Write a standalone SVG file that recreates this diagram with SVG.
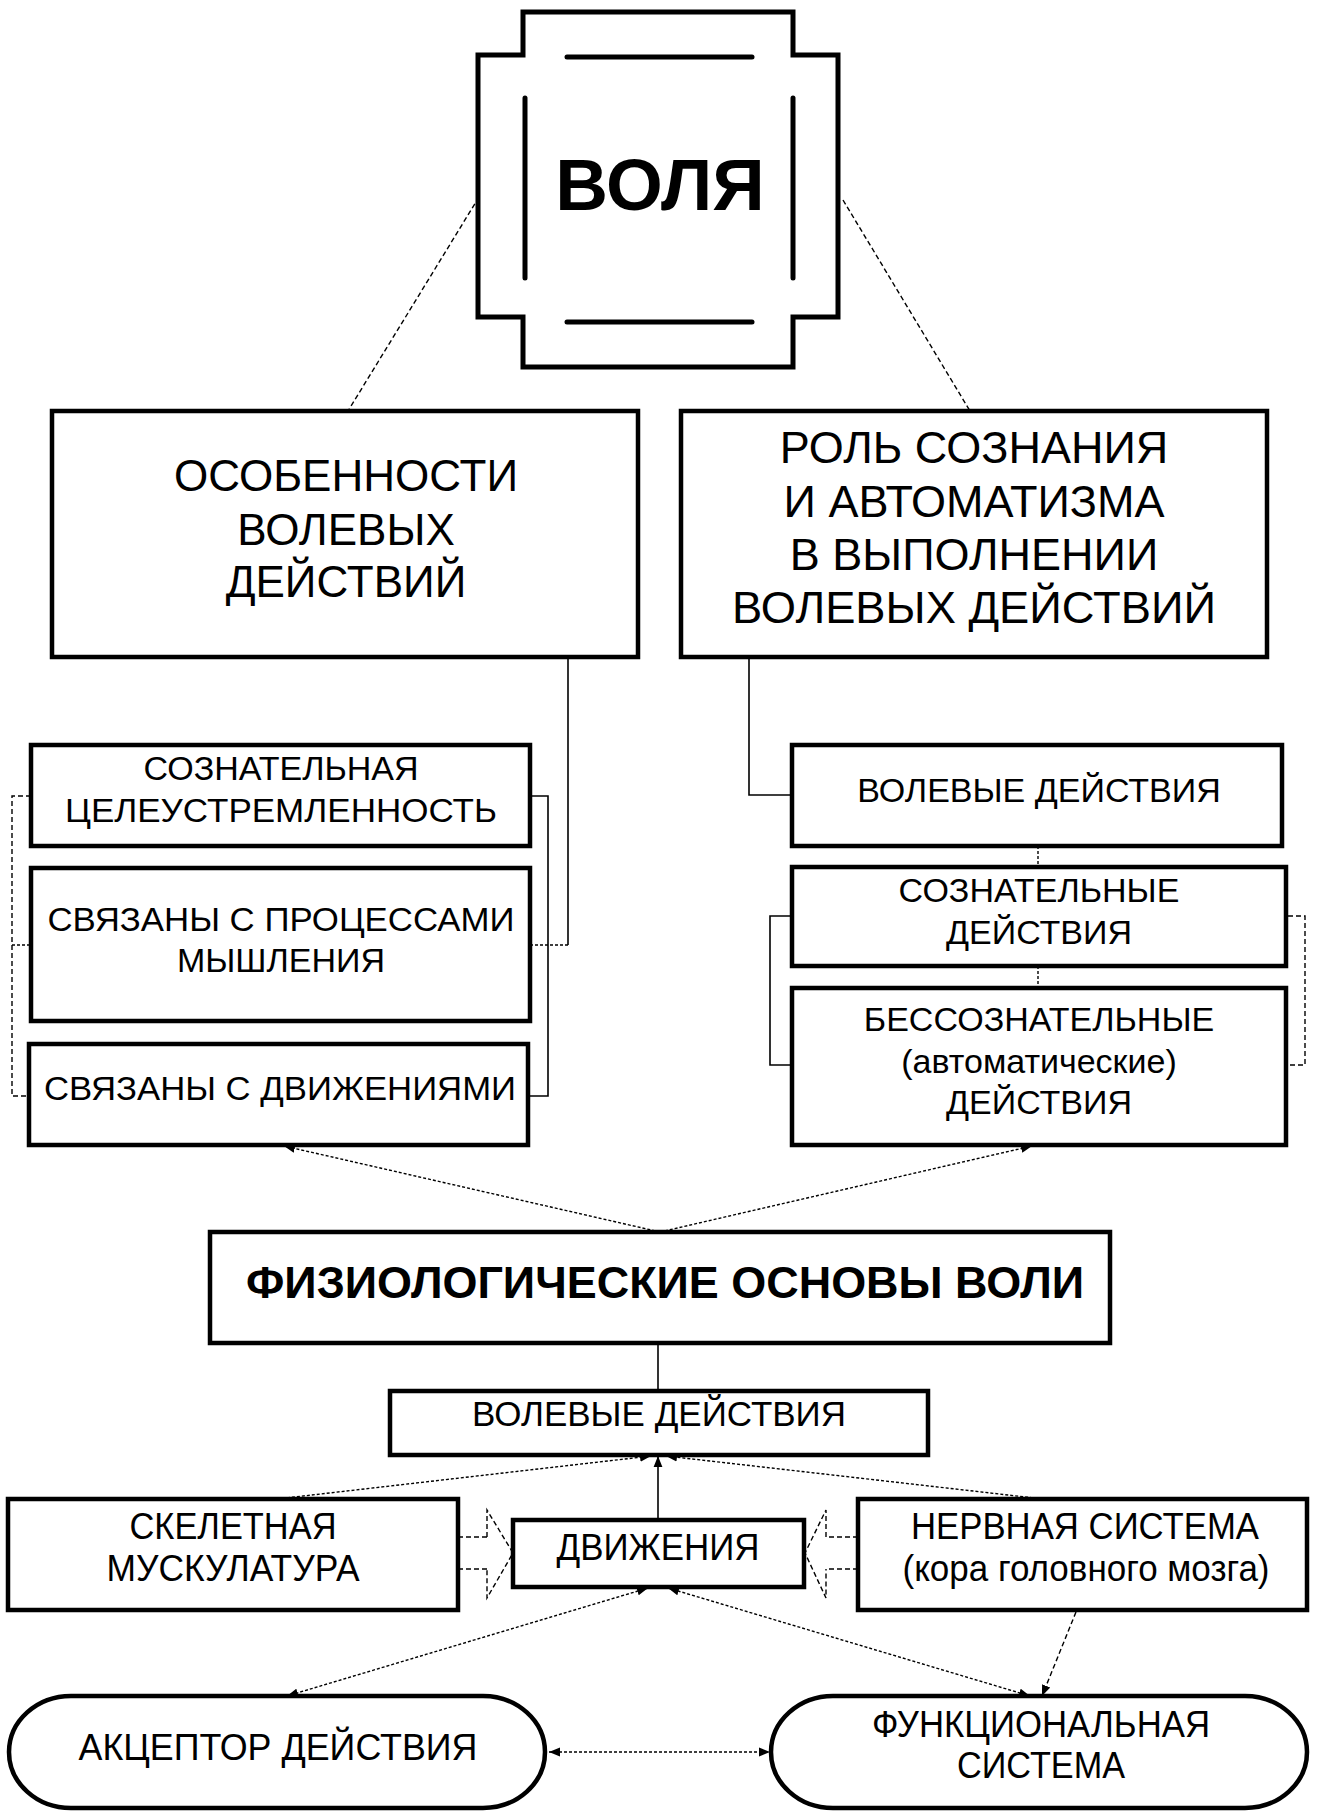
<svg xmlns="http://www.w3.org/2000/svg" width="1319" height="1813" viewBox="0 0 1319 1813">
<style>
  .box { fill: #fff; stroke: #000; stroke-width: 4.5; }
  .frame { fill: #fff; stroke: #000; stroke-width: 5; }
  .bar { stroke: #000; stroke-width: 5; stroke-linecap: round; fill: none; }
  .t { font-family: "Liberation Sans", Arial, sans-serif; fill: #000; text-anchor: middle; }
  .n { font-family: "Liberation Sans Narrow", "Liberation Sans", Arial, sans-serif; fill: #000; text-anchor: middle; }
  .b { font-weight: bold; }
  .solid { stroke: #000; stroke-width: 1.6; fill: none; }
  .dash { stroke: #000; stroke-width: 1.4; fill: none; stroke-dasharray: 5 3; }
  .dot { stroke: #000; stroke-width: 1.4; fill: none; stroke-dasharray: 3 2; }
</style>
<defs>
  <marker id="ah" viewBox="0 0 10 10" refX="10" refY="5" markerWidth="11" markerHeight="11" markerUnits="userSpaceOnUse" orient="auto-start-reverse">
    <path d="M0,1 L10,5 L0,9 z" fill="#000"/>
  </marker>
</defs>
<rect width="1319" height="1813" fill="#fff"/>

<g id="connectors">
  <line class="dash" x1="479" y1="197" x2="348" y2="411"/>
  <line class="dash" x1="843" y1="200" x2="970" y2="411"/>
  <path class="solid" d="M568,657 V945"/>
  <path class="dot" d="M568,945 H530"/>
  <path class="solid" d="M530,796 H548 V1096 H528"/>
  <path class="dash" d="M31,796 H12 V1096 H29"/>
  <path class="dot" d="M12,945 H31"/>
  <path class="solid" d="M749,657 V795 H792"/>
  <path class="dot" d="M1038,846 V867"/>
  <path class="dot" d="M1038,966 V988"/>
  <path class="solid" d="M792,916 H770 V1065 H792"/>
  <path class="dash" d="M1288,916 H1305 V1065 H1288"/>
  <line class="dot" x1="660" y1="1232" x2="284" y2="1146" marker-end="url(#ah)"/>
  <line class="dot" x1="660" y1="1232" x2="1032" y2="1146" marker-end="url(#ah)"/>
  <line class="solid" x1="658" y1="1343" x2="658" y2="1391"/>
  <line class="solid" x1="658" y1="1520" x2="658" y2="1456" marker-end="url(#ah)"/>
  <line class="dot" x1="277" y1="1499" x2="651" y2="1456" marker-end="url(#ah)"/>
  <line class="dot" x1="1043" y1="1499" x2="666" y2="1456" marker-end="url(#ah)"/>
  <path class="dash" d="M458,1537 H487 M458,1569 H487"/>
  <path class="dash" d="M487,1537 V1510 L513,1553 L487,1598 V1569"/>
  <path class="dash" d="M858,1537 H826 M858,1569 H826"/>
  <path class="dash" d="M826,1537 V1510 L805,1553 L826,1598 V1569"/>
  <line class="dot" x1="648" y1="1588" x2="287" y2="1696" marker-start="url(#ah)" marker-end="url(#ah)"/>
  <line class="dot" x1="668" y1="1588" x2="1030" y2="1696" marker-start="url(#ah)" marker-end="url(#ah)"/>
  <line class="dash" x1="1076" y1="1612" x2="1042" y2="1696" marker-end="url(#ah)"/>
  <line class="dot" x1="549" y1="1752" x2="770" y2="1752" marker-start="url(#ah)" marker-end="url(#ah)"/>
</g>

<g id="volya">
  <polygon class="frame" points="523,12 793,12 793,55 838,55 838,317 793,317 793,367 523,367 523,317 478,317 478,55 523,55"/>
  <line class="bar" x1="567" y1="57" x2="752" y2="57"/>
  <line class="bar" x1="567" y1="322" x2="752" y2="322"/>
  <line class="bar" x1="525" y1="98" x2="525" y2="278"/>
  <line class="bar" x1="793" y1="98" x2="793" y2="278"/>
  <text class="t b" x="660" y="210" font-size="73">ВОЛЯ</text>
</g>

<g id="osobennosti">
  <rect class="box" x="52" y="411" width="586" height="246"/>
  <text class="t" x="346" y="491" font-size="44">ОСОБЕННОСТИ</text>
  <text class="t" x="346" y="545" font-size="44">ВОЛЕВЫХ</text>
  <text class="t" x="346" y="597" font-size="44">ДЕЙСТВИЙ</text>
</g>

<g id="rol">
  <rect class="box" x="681" y="411" width="586" height="246"/>
  <text class="t" x="974" y="463" font-size="45">РОЛЬ СОЗНАНИЯ</text>
  <text class="t" x="974" y="517" font-size="45">И АВТОМАТИЗМА</text>
  <text class="t" x="974" y="570" font-size="45">В ВЫПОЛНЕНИИ</text>
  <text class="t" x="974" y="623" font-size="44" textLength="484" lengthAdjust="spacingAndGlyphs">ВОЛЕВЫХ ДЕЙСТВИЙ</text>
</g>

<g id="celeustr">
  <rect class="box" x="31" y="745" width="499" height="101"/>
  <text class="t" x="281" y="780" font-size="34">СОЗНАТЕЛЬНАЯ</text>
  <text class="t" x="281" y="822" font-size="34" textLength="432" lengthAdjust="spacingAndGlyphs">ЦЕЛЕУСТРЕМЛЕННОСТЬ</text>
</g>

<g id="myshlenie">
  <rect class="box" x="31" y="868" width="499" height="153"/>
  <text class="t" x="281" y="931" font-size="34" textLength="467" lengthAdjust="spacingAndGlyphs">СВЯЗАНЫ С ПРОЦЕССАМИ</text>
  <text class="t" x="281" y="972" font-size="34">МЫШЛЕНИЯ</text>
</g>

<g id="dvizheniya-svyaz">
  <rect class="box" x="29" y="1044" width="499" height="101"/>
  <text class="t" x="280" y="1100" font-size="34" textLength="472" lengthAdjust="spacingAndGlyphs">СВЯЗАНЫ С ДВИЖЕНИЯМИ</text>
</g>

<g id="volevye1">
  <rect class="box" x="792" y="745" width="490" height="101"/>
  <text class="t" x="1039" y="802" font-size="34">ВОЛЕВЫЕ ДЕЙСТВИЯ</text>
</g>

<g id="soznatelnye">
  <rect class="box" x="792" y="867" width="494" height="99"/>
  <text class="t" x="1039" y="902" font-size="34">СОЗНАТЕЛЬНЫЕ</text>
  <text class="t" x="1039" y="944" font-size="34">ДЕЙСТВИЯ</text>
</g>

<g id="bessoznatelnye">
  <rect class="box" x="792" y="988" width="494" height="157"/>
  <text class="t" x="1039" y="1031" font-size="34">БЕССОЗНАТЕЛЬНЫЕ</text>
  <text class="t" x="1039" y="1073" font-size="34">(автоматические)</text>
  <text class="t" x="1039" y="1114" font-size="34">ДЕЙСТВИЯ</text>
</g>

<g id="fiziologicheskie">
  <rect class="box" x="210" y="1232" width="900" height="111"/>
  <text class="t b" x="665" y="1298" font-size="44" textLength="838" lengthAdjust="spacingAndGlyphs">ФИЗИОЛОГИЧЕСКИЕ ОСНОВЫ ВОЛИ</text>
</g>

<g id="volevye2">
  <rect class="box" x="390" y="1391" width="538" height="64"/>
  <text class="n" x="659" y="1426" font-size="35" textLength="374" lengthAdjust="spacingAndGlyphs">ВОЛЕВЫЕ ДЕЙСТВИЯ</text>
</g>

<g id="skeletnaya">
  <rect class="box" x="8" y="1499" width="450" height="111"/>
  <text class="n" x="233" y="1539" font-size="36" textLength="207" lengthAdjust="spacingAndGlyphs">СКЕЛЕТНАЯ</text>
  <text class="n" x="233" y="1581" font-size="36" textLength="253" lengthAdjust="spacingAndGlyphs">МУСКУЛАТУРА</text>
</g>

<g id="dvizheniya">
  <rect class="box" x="513" y="1520" width="291" height="67"/>
  <text class="n" x="658" y="1560" font-size="36" textLength="203" lengthAdjust="spacingAndGlyphs">ДВИЖЕНИЯ</text>
</g>

<g id="nervnaya">
  <rect class="box" x="858" y="1499" width="449" height="111"/>
  <text class="n" x="1085" y="1539" font-size="36" textLength="348" lengthAdjust="spacingAndGlyphs">НЕРВНАЯ СИСТЕМА</text>
  <text class="n" x="1086" y="1581" font-size="36" textLength="367" lengthAdjust="spacingAndGlyphs">(кора головного мозга)</text>
</g>

<g id="akceptor">
  <rect class="box" x="9" y="1696" width="536" height="112" rx="62" ry="56"/>
  <text class="n" x="278" y="1760" font-size="36" textLength="399" lengthAdjust="spacingAndGlyphs">АКЦЕПТОР  ДЕЙСТВИЯ</text>
</g>

<g id="funkcionalnaya">
  <rect class="box" x="771" y="1696" width="536" height="112" rx="62" ry="56"/>
  <text class="n" x="1041" y="1737" font-size="36" textLength="338" lengthAdjust="spacingAndGlyphs">ФУНКЦИОНАЛЬНАЯ</text>
  <text class="n" x="1041" y="1778" font-size="36" textLength="168" lengthAdjust="spacingAndGlyphs">СИСТЕМА</text>
</g>
</svg>
